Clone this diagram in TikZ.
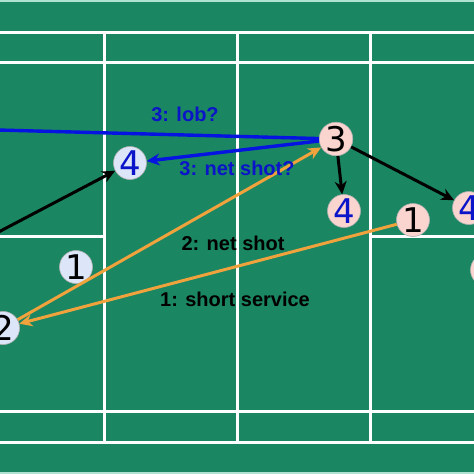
\documentclass[tikz,border=0pt]{standalone}
\usepackage{fontspec}
\newfontfamily\digitfont{DejaVu Sans}
\newfontfamily\labelfont{Liberation Sans}
\usetikzlibrary{arrows.meta}
\definecolor{court}{RGB}{27,134,98}
\definecolor{mint}{RGB}{175,226,208}
\definecolor{pinkfill}{RGB}{250,212,206}
\definecolor{bluefill}{RGB}{220,230,248}
\definecolor{shotblue}{RGB}{5,20,225}
\definecolor{shotorange}{RGB}{240,162,60}
\definecolor{txtblue}{RGB}{10,20,200}
\tikzset{
  courtline/.style={white, line width=3pt},
  player/.style={circle, minimum size=33pt, inner sep=0pt, draw=gray!60, line width=0.6pt,
    font=\digitfont\fontsize{34}{34}\selectfont},
  pinkp/.style={player, fill=pinkfill},
  bluep/.style={player, fill=bluefill},
  shotlabel/.style={font=\labelfont\bfseries\fontsize{20}{20}\selectfont},
  bluearrow/.style={shotblue, line width=3.4pt, -{Stealth[length=13pt,width=12pt]}},
  blueline/.style={shotblue, line width=3.4pt},
  blackarrow/.style={black, line width=3pt, -{Stealth[length=13pt,width=12pt]}},
  orangearrow/.style={shotorange, line width=3pt, -{Stealth[length=13pt,width=12pt]}},
}
\begin{document}
\begin{tikzpicture}[x=1pt, y=-1pt]
\useasboundingbox (0,0) rectangle (474,474);
\clip (0,0) rectangle (474,474);
% background
\fill[court] (0,0) rectangle (474,474);
\fill[mint] (0,0) rectangle (474,2);
\fill[mint] (0,472) rectangle (474,474);
% court lines
\draw[courtline] (0,32) -- (474,32);
\draw[courtline] (0,62) -- (474,62);
\draw[courtline] (0,411) -- (474,411);
\draw[courtline] (0,442) -- (474,442);
\draw[courtline] (0,236) -- (104,236);
\draw[courtline] (370,236) -- (474,236);
\draw[courtline] (104,32) -- (104,442);
\draw[courtline] (237,32) -- (237,442);
\draw[courtline] (370,32) -- (370,442);
% players
\node[bluep, text=txtblue] (b4) at (130,163) {4};
\node[bluep] (b1) at (76,267) {1};
\node[bluep] (b2) at (3,328) {2};
\node[pinkp] (p3) at (336,139) {3};
\node[pinkp, text=txtblue] (p4a) at (344,211) {4};
\node[pinkp] (p1) at (413,220) {1};
\node[pinkp, text=txtblue] (p4b) at (469,208) {4};
\node[pinkp] (pextra) at (487,270) {};
\coordinate (lobend) at (-40,129);
\coordinate (blkstart) at (-30,247);
% shots
\draw[blueline] (p3) -- (lobend);
\draw[bluearrow] (p3) -- (b4);
\draw[blackarrow] (blkstart) -- (b4);
\draw[blackarrow] (p3) -- (p4a);
\draw[blackarrow] (p3) -- (p4b);
\draw[orangearrow] (p1) -- (b2);
\draw[orangearrow] (b2) -- (p3);
% labels
\node[shotlabel, text=txtblue] (lobl) at (185,114) {3: lob?};
\node[shotlabel, text=txtblue] (netl) at (237,168) {3: net shot?};
\node[shotlabel] (net2l) at (233,243) {2: net shot};
\node[shotlabel] (servl) at (235,299) {1: short service};
\end{tikzpicture}
\end{document}
